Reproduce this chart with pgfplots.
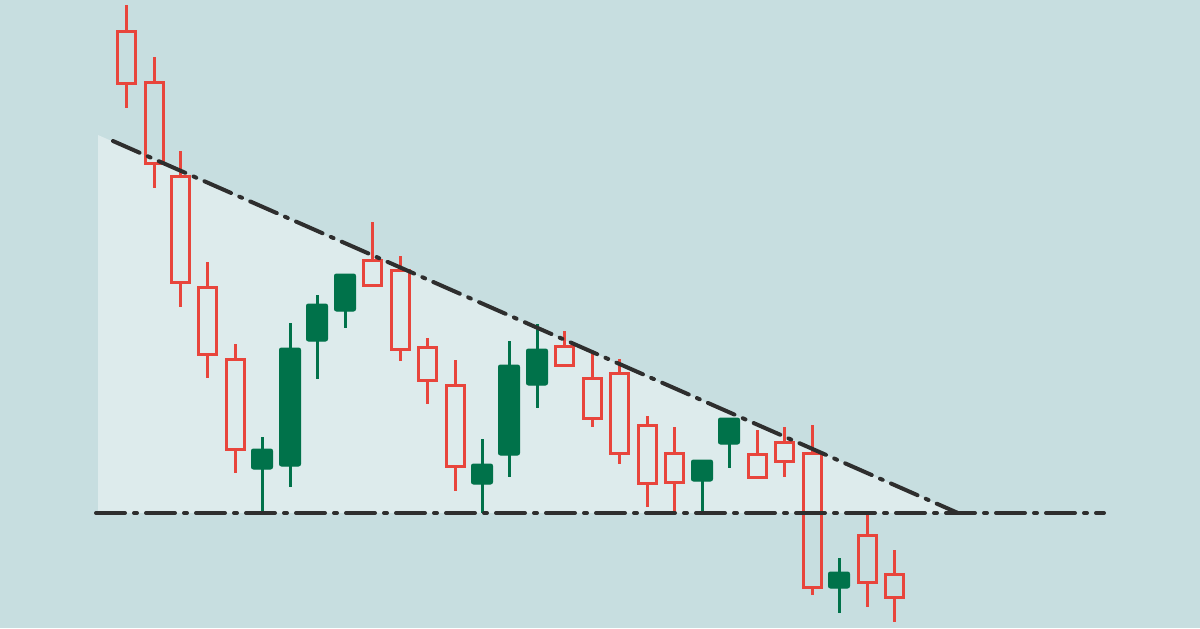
\documentclass[border=0pt]{standalone}
\usepackage{pgfplots}
\pgfplotsset{compat=1.18}
\usepgfplotslibrary{statistics}

\definecolor{bgblue}{HTML}{C7DEE0}
\definecolor{trifill}{HTML}{DDEBEC}
\definecolor{candlered}{HTML}{E8453C}
\definecolor{candlegreen}{HTML}{00724A}
\definecolor{trendline}{HTML}{2E2E2E}

% values are in picture pixels, y counted from the top
% \candle{style}{x}{high}{body top}{body bottom}{low}
\newcommand{\candle}[6]{%
  \addplot[#1, boxplot prepared={draw position=#2,
    lower whisker=#3, lower quartile=#4, median=#4,
    upper quartile=#5, upper whisker=#6}] coordinates {};}

\pgfplotsset{
  redc/.style={draw=candlered, fill=none, line width=1.5pt,
    boxplot/box extend=18},
  greenc/.style={draw=candlegreen, fill=candlegreen, line width=0.5pt,
    rounded corners=1pt, boxplot/box extend=21},
  dashdot/.style={trendline, line width=2pt, line cap=round,
    dash pattern=on 14.5pt off 4.5pt on 1.5pt off 4.5pt},
}

\begin{document}
\begin{tikzpicture}
\begin{axis}[
    width=600pt, height=314pt, scale only axis,
    xmin=0, xmax=1200, ymin=0, ymax=628,
    y dir=reverse,
    hide axis,
    clip=true,
    boxplot/draw direction=y,
    boxplot/whisker extend=0,
    boxplot/every whisker/.style={line width=1.5pt, rounded corners=0pt},
    boxplot/every median/.style={draw=none},
]
% background and triangle area
\addplot[fill=bgblue, draw=none] coordinates {(0,0) (1200,0) (1200,628) (0,628)} --cycle;
\addplot[fill=trifill, draw=none] coordinates {(98,135) (98,513) (958,513)} --cycle;

% candles
\candle{redc}{126}{5}{31}{83}{108}
\candle{redc}{154}{57}{82}{163}{188}
\candle{redc}{180}{151}{176}{282}{307}
\candle{redc}{207}{262}{287}{354}{378}
\candle{redc}{235}{344}{359}{449}{473}
\candle{greenc}{262}{437}{449}{469}{513}
\candle{greenc}{290}{323}{348}{466}{487}
\candle{greenc}{317}{295}{304}{341}{379}
\candle{greenc}{345}{274}{274}{311}{328}
\candle{redc}{372}{222}{260}{285}{285}
\candle{redc}{400}{256}{270}{349}{361}
\candle{redc}{427}{338}{347}{380}{404}
\candle{redc}{455}{360}{385}{466}{491}
\candle{greenc}{482}{439}{464}{484}{513}
\candle{greenc}{509}{341}{365}{455}{477}
\candle{greenc}{537}{324}{349}{385}{408}
\candle{redc}{564}{331}{346}{365}{365}
\candle{redc}{592}{353}{378}{418}{427}
\candle{redc}{619}{359}{373}{453}{464}
\candle{redc}{647}{416}{425}{483}{507}
\candle{redc}{674}{427}{453}{482}{513}
\candle{greenc}{702}{460}{460}{481}{513}
\candle{greenc}{729}{418}{418}{444}{468}
\candle{redc}{757}{430}{454}{477}{477}
\candle{redc}{784}{427}{442}{461}{477}
\candle{redc}{812}{425}{453}{587}{595}
\candle{greenc}{839}{558}{572}{588}{613}
\candle{redc}{867}{511}{535}{582}{607}
\candle{redc}{894}{550}{574}{597}{622}

% trend lines
\addplot[dashdot] coordinates {(113,141) (958,513)};
\addplot[dashdot] coordinates {(96,513) (1104,513)};
\end{axis}
\end{tikzpicture}
\end{document}
